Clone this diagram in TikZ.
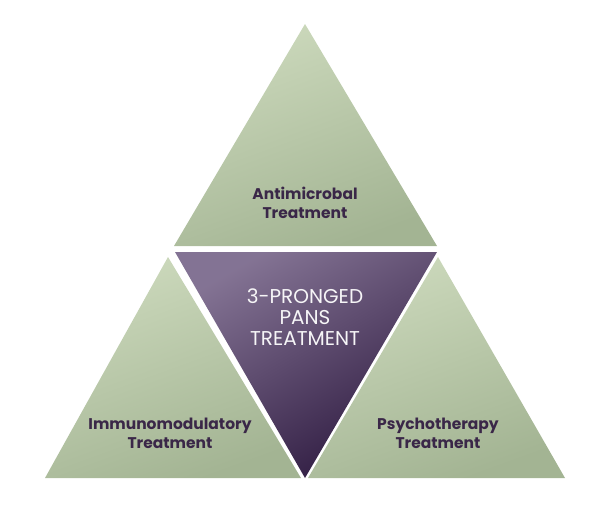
\documentclass[tikz,border=0pt]{standalone}
\usepackage{fontspec}
\setmainfont{Poppins}
\definecolor{gl}{HTML}{CCD9BC}
\definecolor{gd}{HTML}{A3B493}
\definecolor{pl}{HTML}{8D7D9D}
\definecolor{pd}{HTML}{2E1A40}
\definecolor{tx}{HTML}{3A2748}
\begin{document}
\begin{tikzpicture}[x=1pt,y=-1pt,
  green/.style={top color=gl,bottom color=gd,shading angle=20},
  lbl/.style={font=\fontsize{15.5}{19}\selectfont\bfseries,text=tx,align=center},
  ctr/.style={font=\fontsize{20}{21}\selectfont,text=white!92!pl,align=center}]
\useasboundingbox (0,0) rectangle (600,512);
\shade[green] (305,24) -- (437,246) -- (174,246) -- cycle;
\shade[green] (168,257) -- (301,478) -- (45,478) -- cycle;
\shade[green] (438,257) -- (565,478) -- (308,478) -- cycle;
\shade[top color=pl!90!pd,bottom color=pd,shading angle=30] (175,252) -- (437,252) -- (305,478) -- cycle;
\node[lbl] (a) at (305,203) {Antimicrobal\\Treatment};
\node[lbl] (i) at (170,433) {Immunomodulatory\\Treatment};
\node[lbl] (p) at (438,433) {Psychotherapy\\Treatment};
\node[ctr] (c) at (305,317) {3-PRONGED\\PANS\\TREATMENT};
\end{tikzpicture}
\end{document}
